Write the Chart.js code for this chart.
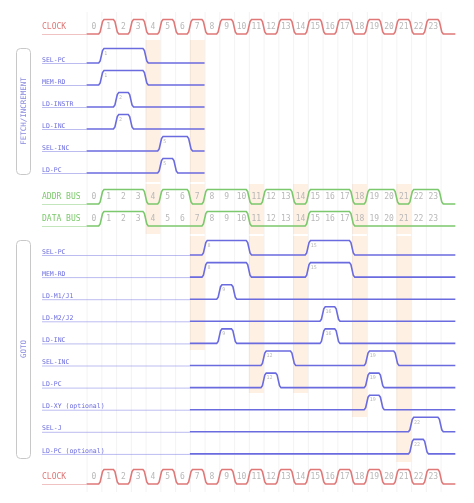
<!DOCTYPE html>
<html><head><meta charset="utf-8">
<script src="https://cdn.jsdelivr.net/npm/chart.js@4/dist/chart.umd.min.js"></script>
<style>html,body{margin:0;padding:0;background:#fff}#c{display:block}</style>
</head><body><canvas id="c" width="474" height="503"></canvas>
<script>
const cycles = Array.from({length:24},(_,i)=>i);
const fetchNames = ["SEL-PC","MEM-RD","LD-INSTR","LD-INC","SEL-INC","LD-PC"];
const fetchHigh = [[[1,3]],[[1,3]],[[2,2]],[[2,2]],[[5,6]],[[5,5]]];
const gotoNames = ["SEL-PC","MEM-RD","LD-M1/J1","LD-M2/J2","LD-INC","SEL-INC","LD-PC","LD-XY (optional)","SEL-J","LD-PC (optional)"];
const gotoHigh = [[[8,10],[15,17]],[[8,10],[15,17]],[[9,9]],[[16,16]],[[9,9],[16,16]],[[12,13],[19,20]],[[12,12],[19,19]],[[19,19]],[[22,23]],[[22,22]]];
const addrHigh = [[1,3],[5,6],[8,10],[12,13],[15,17],[19,20],[22,23]];
const dataHigh = [[1,3],[8,10],[15,17]];
const clockHigh = [[1,1],[3,3],[5,5],[7,7],[9,9],[11,11],[13,13],[15,15],[17,17],[19,19],[21,21],[23,23]];
const fetchBands = [4,7];
const busBands = [4,7,11,14,18,21];
const gotoBands = [[7,350],[11,393],[14,393],[18,417],[21,462]];

const X0 = 86.6, CW = 14.75;
const AMP = 14.5, E = 0.08, R = 0.1;
function wave(highs, base, start, end){
  const pts=[{x:start,y:base}];
  highs.forEach(([a,b])=>{
    pts.push({x:a-E-R,y:base},{x:a-E,y:base-2},{x:a+E,y:base-AMP+2},{x:a+E+R,y:base-AMP},
             {x:b+1-E-R,y:base-AMP},{x:b+1-E,y:base-AMP+2},{x:b+1+E,y:base-2},{x:b+1+E+R,y:base});
  });
  pts.push({x:end,y:base});
  return pts;
}
const BLUE='#6b6be0', RED='#e07878', GREEN='#7cc86c', GRAY='#b8b8b8';
const datasets=[]; const labels=[]; const edgeNums=[];
function add(name,highs,base,start,end,color,num){
  datasets.push({data:wave(highs,base,start,end),borderColor:color,borderWidth:1.6,pointRadius:0,tension:0,fill:false});
  labels.push({name,base,start,color});
  if(num) highs.forEach(([a])=>edgeNums.push({c:a,base}));
}
add("CLOCK",clockHigh,34,0,25,RED,false);
fetchNames.forEach((n,i)=>add(n,fetchHigh[i],63+22*i,0,8,BLUE,true));
add("ADDR BUS",addrHigh,204,0,25,GREEN,false);
add("DATA BUS",dataHigh,226,0,25,GREEN,false);
gotoNames.forEach((n,i)=>add(n,gotoHigh[i],255+22.1*i,7,25,BLUE,true));
add("CLOCK",clockHigh,484,0,25,RED,false);

const deco={id:'deco',
 beforeDatasetsDraw(ch){
  const c=ch.ctx,xs=ch.scales.x,ys=ch.scales.y;
  const px=v=>xs.getPixelForValue(v), py=v=>ys.getPixelForValue(v);
  c.save();
  c.fillStyle='rgba(253,226,200,0.5)';
  const band=(k,y1,y2)=>c.fillRect(px(k),py(y1),px(k+1)-px(k),py(y2)-py(y1));
  fetchBands.forEach(k=>band(k,40,182));
  busBands.forEach(k=>band(k,184,234));
  gotoBands.forEach(([k,e])=>band(k,236,e));
  c.strokeStyle='rgba(0,0,0,0.05)';c.lineWidth=1;
  for(let k=0;k<=24;k++){c.beginPath();c.moveTo(px(k)+.5,py(12));c.lineTo(px(k)+.5,py(492));c.stroke();}
  labels.forEach(l=>{c.strokeStyle=l.color;c.globalAlpha=0.45;c.lineWidth=1;c.beginPath();c.moveTo(42,py(l.base)+.5);c.lineTo(px(l.start),py(l.base)+.5);c.stroke();});
  c.globalAlpha=1;
  c.strokeStyle='#c8c8c8';c.lineWidth=1;
  const rr=(x,y,w,h,r)=>{c.beginPath();c.roundRect(x,y,w,h,r);c.stroke();};
  rr(16.5,48.5,14,126,4); rr(16.5,240.5,14,218,4);
  c.font='7.5px "DejaVu Sans Mono"';c.fillStyle='#8a8ae0';c.textAlign='center';c.textBaseline='middle';
  c.save();c.translate(24,111);c.rotate(-Math.PI/2);c.fillText('FETCH/INCREMENT',0,0);c.restore();
  c.save();c.translate(24,349);c.rotate(-Math.PI/2);c.fillText('GOTO',0,0);c.restore();
  c.restore();
 },
 afterDatasetsDraw(ch){
  const c=ch.ctx,xs=ch.scales.x,ys=ch.scales.y;
  const px=v=>xs.getPixelForValue(v), py=v=>ys.getPixelForValue(v);
  c.save();c.textBaseline='middle';
  labels.forEach(l=>{c.fillStyle=l.color;c.textAlign='left';
    const big=(l.name==='CLOCK'||l.name.includes('BUS'));
    c.font=big?'8px "DejaVu Sans Mono"':'6.5px "DejaVu Sans Mono"';
    c.fillText(l.name,42,big?py(l.base)-7:py(l.base)-3);});
  c.fillStyle=GRAY;c.font='8px "DejaVu Sans Mono"';c.textAlign='center';
  [34,204,226,484].forEach(b=>cycles.forEach(i=>c.fillText(String(i),px(i+0.5),py(b)-7)));
  c.font='5px "DejaVu Sans Mono"';c.textAlign='left';
  edgeNums.forEach(e=>c.fillText(String(e.c),px(e.c)+3,py(e.base)-AMP+5));
  c.restore();
 }};
new Chart(document.getElementById('c'),{type:'line',data:{datasets},
 options:{responsive:false,animation:false,events:[],layout:{padding:0},
  plugins:{legend:{display:false},tooltip:{enabled:false}},
  scales:{x:{type:'linear',display:false,min:-X0/CW,max:(474-X0)/CW},
          y:{type:'linear',display:false,min:0,max:503,reverse:true}}},
 plugins:[deco]});
</script></body></html>
